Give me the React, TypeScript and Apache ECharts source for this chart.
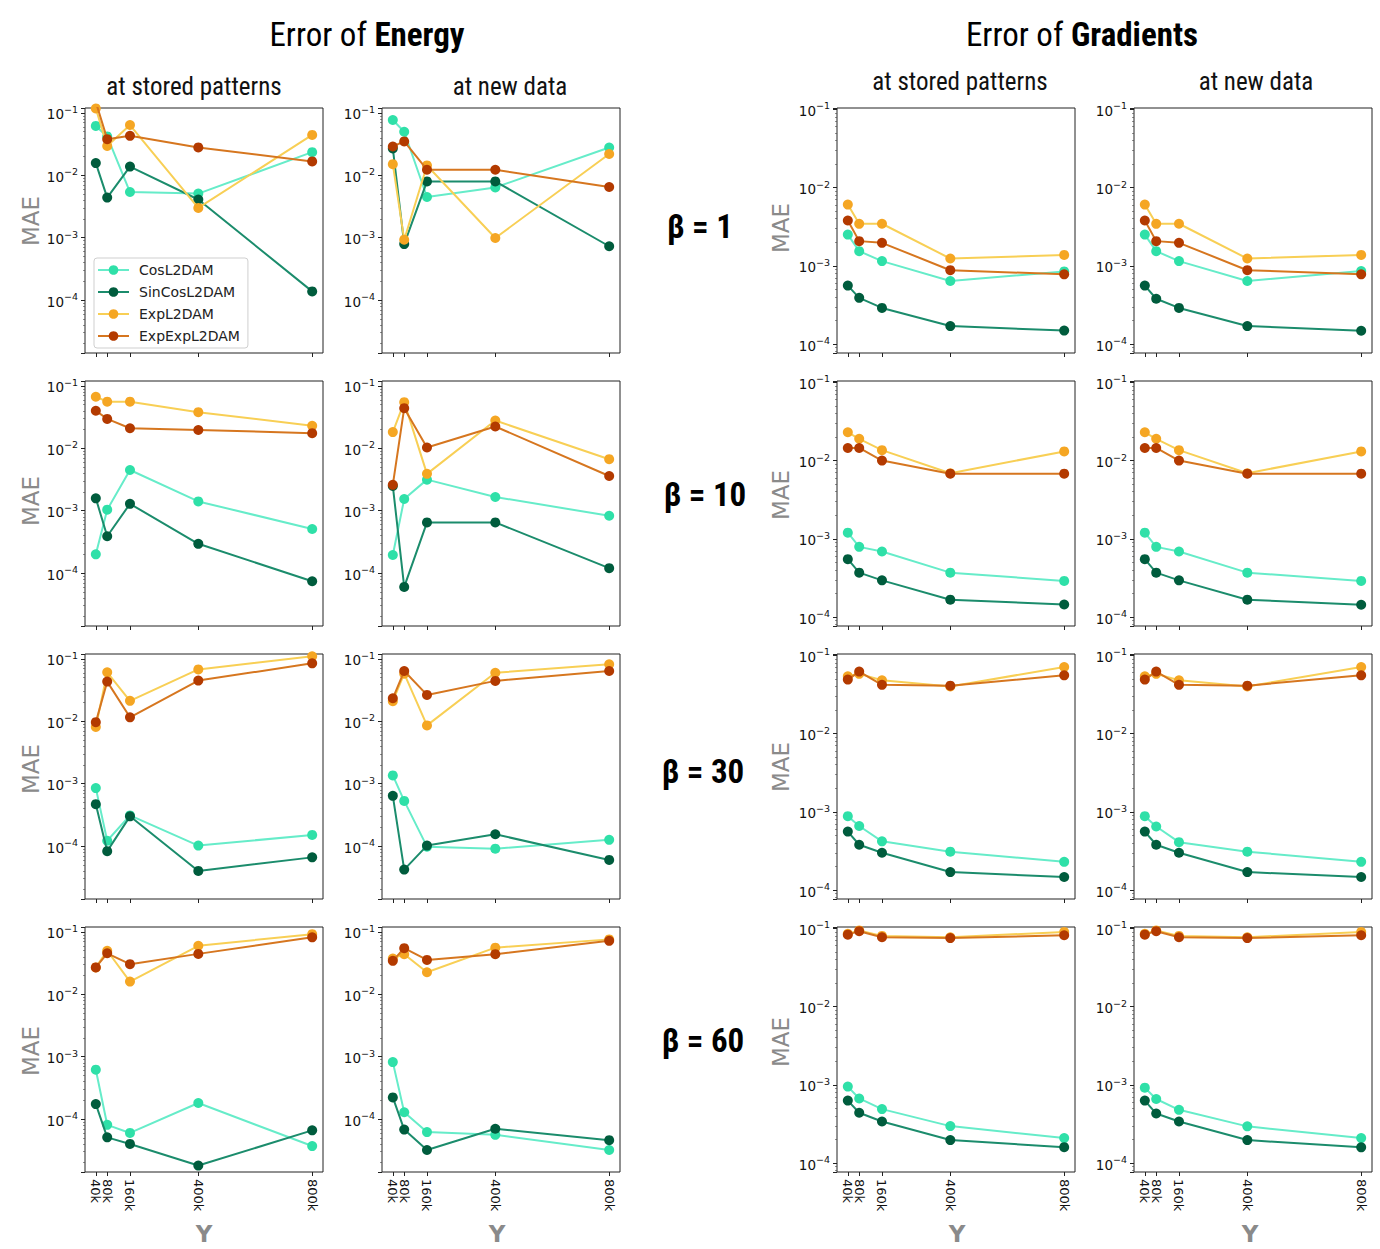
import React, { useEffect, useRef } from 'react';
import * as echarts from 'echarts';

// Number of stored patterns Y (x positions of every panel)
const yValues = [40000, 80000, 160000, 400000, 800000];
const models = ['CosL2DAM', 'SinCosL2DAM', 'ExpL2DAM', 'ExpExpL2DAM'];
const betaLabels = ['β = 1', 'β = 10', 'β = 30', 'β = 60'];
const markerColors = ['#2fe0a8', '#005c3d', '#f5a623', '#b33a00'];
const lineColors = ['#66ecc9', '#1b8c6c', '#f8cf55', '#d6761f'];

// MAE per model (rows: Cos, SinCos, Exp, ExpExp), columns follow yValues
const energyStoredBeta1 = [
  [0.062, 0.042, 0.0054, 0.0051, 0.0235],
  [0.0157, 0.0044, 0.0138, 0.0041, 0.000138],
  [0.118, 0.0296, 0.064, 0.003, 0.0445],
  [0.15, 0.038, 0.043, 0.028, 0.0167],
];
const energyNewBeta1 = [
  [0.077, 0.05, 0.0045, 0.0064, 0.0279],
  [0.027, 0.00079, 0.008, 0.008, 0.00073],
  [0.0151, 0.00093, 0.0144, 0.00099, 0.022],
  [0.029, 0.035, 0.0123, 0.0123, 0.0065],
];
const energyStoredBeta10 = [
  [0.0002, 0.00104, 0.0045, 0.00141, 0.00051],
  [0.00158, 0.00039, 0.00129, 0.000295, 0.000074],
  [0.067, 0.056, 0.056, 0.038, 0.023],
  [0.04, 0.0296, 0.021, 0.0197, 0.0175],
];
const energyNewBeta10 = [
  [0.000195, 0.00154, 0.00315, 0.00166, 0.00083],
  [0.0025, 0.00006, 0.00065, 0.00065, 0.00012],
  [0.0182, 0.055, 0.0039, 0.0279, 0.0067],
  [0.0026, 0.044, 0.0103, 0.0224, 0.0036],
];
const energyStoredBeta30 = [
  [0.00085, 0.000122, 0.00031, 0.000102, 0.000151],
  [0.00047, 0.000083, 0.0003, 0.00004, 0.000066],
  [0.0081, 0.061, 0.0213, 0.068, 0.11],
  [0.0097, 0.0433, 0.0116, 0.045, 0.085],
];
const energyNewBeta30 = [
  [0.00136, 0.00053, 0.000098, 0.000091, 0.000126],
  [0.00064, 0.000042, 0.000102, 0.000155, 0.00006],
  [0.021, 0.058, 0.0086, 0.06, 0.082],
  [0.0234, 0.064, 0.0265, 0.0445, 0.064],
];
const energyStoredBeta60 = [
  [0.00062, 0.000081, 0.00006, 0.000181, 0.000037],
  [0.000174, 0.000051, 0.00004, 0.000018, 0.000066],
  [0.027, 0.05, 0.016, 0.06, 0.092],
  [0.027, 0.0455, 0.0304, 0.0445, 0.082],
];
const energyNewBeta60 = [
  [0.00082, 0.000129, 0.000062, 0.000056, 0.000032],
  [0.000223, 0.000068, 0.000032, 0.00007, 0.000046],
  [0.0375, 0.044, 0.0226, 0.056, 0.076],
  [0.0344, 0.055, 0.0356, 0.044, 0.072],
];
const gradStoredBeta1 = [
  [0.00251, 0.00154, 0.00115, 0.00064, 0.00085],
  [0.00056, 0.00039, 0.00029, 0.00017, 0.000149],
  [0.00607, 0.00344, 0.00345, 0.00124, 0.00138],
  [0.0038, 0.00207, 0.00197, 0.00088, 0.00078],
];
const gradNewBeta1 = [
  [0.00251, 0.00154, 0.00115, 0.00064, 0.00086],
  [0.00056, 0.00038, 0.00029, 0.00017, 0.000148],
  [0.00607, 0.00344, 0.00345, 0.00124, 0.00138],
  [0.0038, 0.00207, 0.00197, 0.00088, 0.00078],
];
const gradStoredBeta10 = [
  [0.0012, 0.00079, 0.00069, 0.00037, 0.00029],
  [0.00055, 0.00037, 0.000295, 0.000167, 0.000145],
  [0.023, 0.019, 0.0136, 0.0069, 0.0131],
  [0.0145, 0.0145, 0.01, 0.0068, 0.0068],
];
const gradNewBeta10 = [
  [0.0012, 0.00079, 0.00069, 0.00037, 0.00029],
  [0.00055, 0.00037, 0.000295, 0.000167, 0.000144],
  [0.023, 0.019, 0.0136, 0.0069, 0.0131],
  [0.0145, 0.0145, 0.01, 0.0068, 0.0068],
];
const gradStoredBeta30 = [
  [0.00088, 0.00066, 0.00042, 0.00031, 0.00023],
  [0.00056, 0.00038, 0.0003, 0.00017, 0.000147],
  [0.054, 0.058, 0.048, 0.04, 0.071],
  [0.049, 0.062, 0.042, 0.041, 0.0555],
];
const gradNewBeta30 = [
  [0.00088, 0.00065, 0.00041, 0.00031, 0.00023],
  [0.00056, 0.00038, 0.0003, 0.00017, 0.000147],
  [0.054, 0.058, 0.048, 0.04, 0.071],
  [0.049, 0.062, 0.042, 0.041, 0.0555],
];
const gradStoredBeta60 = [
  [0.00095, 0.00067, 0.00049, 0.000297, 0.000209],
  [0.00063, 0.00044, 0.00034, 0.000197, 0.00016],
  [0.085, 0.094, 0.08, 0.077, 0.09],
  [0.083, 0.092, 0.077, 0.075, 0.0815],
];
const gradNewBeta60 = [
  [0.00092, 0.00066, 0.00048, 0.000295, 0.000209],
  [0.00063, 0.00043, 0.00034, 0.000197, 0.000159],
  [0.085, 0.094, 0.08, 0.077, 0.09],
  [0.083, 0.092, 0.077, 0.075, 0.0815],
];

const panelRows = [
  [energyStoredBeta1, energyNewBeta1, gradStoredBeta1, gradNewBeta1],
  [energyStoredBeta10, energyNewBeta10, gradStoredBeta10, gradNewBeta10],
  [energyStoredBeta30, energyNewBeta30, gradStoredBeta30, gradNewBeta30],
  [energyStoredBeta60, energyNewBeta60, gradStoredBeta60, gradNewBeta60],
];

const PLAIN = "'DejaVu Sans', sans-serif";
const NARROW = "'Roboto Condensed', 'Liberation Sans Narrow', 'DejaVu Sans Condensed', sans-serif";

const colLeft = [85, 382, 837, 1134];
const rowTop = [108, 381, 654, 927];
const PANEL_W = 238;
const PANEL_H = 245;
const X_MIN = 2000;
const X_MAX = 838000;

const energyRange = [1.42e-5, 0.12];
const gradRange = [7.7e-5, 0.104];

const logLabel = (v: number) => {
  const e = Math.log10(v);
  const r = Math.round(e);
  if (Math.abs(e - r) > 1e-6) return '';
  return `{b|10}{s|\u2212${Math.abs(r)}}`;
};

const kLabel = (v: number) => `${Math.round(v / 1000)}k`;

const xLabelStyle = {
  rotate: -90,
  margin: 7,
  fontFamily: PLAIN,
  fontSize: 13,
  color: '#111',
  interval: 0,
  hideOverlap: false,
  formatter: kLabel,
};

function buildOption() {
  const grid: any[] = [];
  const xAxis: any[] = [];
  const yAxis: any[] = [];
  const series: any[] = [];
  const extraX: any[] = [];

  panelRows.forEach((row, r) => {
    row.forEach((panel, c) => {
      const idx = grid.length;
      const bottomRow = r === panelRows.length - 1;
      grid.push({
        left: colLeft[c],
        top: rowTop[r],
        width: PANEL_W,
        height: PANEL_H,
        show: true,
        borderColor: '#222',
        borderWidth: 1,
        backgroundColor: 'transparent',
      });
      xAxis.push({
        type: 'value',
        gridIndex: idx,
        min: X_MIN,
        max: X_MAX,
        axisLine: { show: false },
        splitLine: { show: false },
        axisTick: {
          show: true,
          customValues: yValues,
          length: 4,
          lineStyle: { color: '#222', width: 1 },
        },
        axisLabel: {
          show: bottomRow,
          customValues: yValues.filter((v) => v !== 80000),
          ...xLabelStyle,
        },
      });
      if (bottomRow) {
        // the 80k label sits right next to 40k, so it gets its own label-only axis
        extraX.push({
          type: 'value',
          gridIndex: idx,
          position: 'bottom',
          min: X_MIN,
          max: X_MAX,
          axisLine: { show: false },
          splitLine: { show: false },
          axisTick: { show: false },
          axisLabel: { show: true, customValues: [80000], ...xLabelStyle },
        });
      }
      const range = c < 2 ? energyRange : gradRange;
      yAxis.push({
        type: 'log',
        logBase: 10,
        gridIndex: idx,
        min: range[0],
        max: range[1],
        axisLine: { show: false },
        splitLine: { show: false },
        axisTick: { show: true, length: 4, lineStyle: { color: '#222', width: 1 } },
        minorTick: { show: true, splitNumber: 9, length: 2, lineStyle: { color: '#444', width: 0.6 } },
        axisLabel: {
          margin: 7,
          color: '#111',
          formatter: logLabel,
          rich: {
            b: { fontFamily: PLAIN, fontSize: 13.5, color: '#111', lineHeight: 17, verticalAlign: 'bottom' },
            s: { fontFamily: PLAIN, fontSize: 9.5, color: '#111', lineHeight: 10, verticalAlign: 'top' },
          },
        },
      });
      panel.forEach((vals, m) => {
        series.push({
          type: 'line',
          name: models[m],
          xAxisIndex: idx,
          yAxisIndex: idx,
          data: yValues.map((x, i) => [x, vals[i]]),
          symbol: 'circle',
          symbolSize: 10,
          clip: true,
          lineStyle: { color: lineColors[m], width: 2 },
          itemStyle: { color: markerColors[m] },
          emphasis: { disabled: true },
          z: 2 + m,
        });
      });
    });
  });

  const graphic: any[] = [];
  const titleRich = (word: string) => ({
    text: `{n|Error of }{b|${word}}`,
    align: 'center',
    verticalAlign: 'middle',
    rich: {
      n: { fontFamily: NARROW, fontSize: 33, color: '#111' },
      b: { fontFamily: NARROW, fontSize: 33, fontWeight: 'bold', color: '#111' },
    },
  });
  graphic.push({ type: 'text', x: 367, y: 34, style: titleRich('Energy') });
  graphic.push({ type: 'text', x: 1082, y: 34, style: titleRich('Gradients') });

  const subtitle = (x: number, y: number, text: string) => ({
    type: 'text',
    x,
    y,
    style: { text, align: 'center', verticalAlign: 'middle', fontFamily: NARROW, fontSize: 25, fill: '#111' },
  });
  graphic.push(subtitle(194, 86, 'at stored patterns'));
  graphic.push(subtitle(510, 86, 'at new data'));
  graphic.push(subtitle(960, 81, 'at stored patterns'));
  graphic.push(subtitle(1256, 81, 'at new data'));

  const betaY = [226, 494, 771, 1040];
  const betaX = [700, 705, 703, 703];
  betaLabels.forEach((t, i) => {
    graphic.push({
      type: 'text',
      x: betaX[i],
      y: betaY[i],
      style: { text: t, align: 'center', verticalAlign: 'middle', fontFamily: NARROW, fontSize: 33, fontWeight: 'bold', fill: '#000' },
    });
  });

  const maeEnergyY = [221, 501, 769, 1051];
  const maeGradY = [228, 495, 767, 1042];
  const mae = (x: number, y: number) => ({
    type: 'text',
    x,
    y,
    rotation: Math.PI / 2,
    style: { text: 'MAE', align: 'center', verticalAlign: 'middle', fontFamily: PLAIN, fontSize: 23, fill: '#8a8a8a' },
  });
  maeEnergyY.forEach((y) => graphic.push(mae(31, y)));
  maeGradY.forEach((y) => graphic.push(mae(781, y)));

  [204, 497, 957, 1250].forEach((x) => {
    graphic.push({
      type: 'text',
      x,
      y: 1234,
      style: { text: 'Y', align: 'center', verticalAlign: 'middle', fontFamily: PLAIN, fontSize: 23, fontWeight: 'bold', fill: '#8a8a8a' },
    });
  });

  return {
    animation: false,
    backgroundColor: '#ffffff',
    grid,
    xAxis: [...xAxis, ...extraX],
    yAxis,
    series,
    legend: {
      data: models,
      orient: 'vertical',
      left: 94,
      top: 258,
      itemWidth: 31,
      itemHeight: 12,
      itemGap: 8,
      padding: [5, 8, 5, 3],
      backgroundColor: '#ffffff',
      borderColor: '#cfcfcf',
      borderWidth: 1,
      borderRadius: 3,
      selectedMode: false,
      textStyle: { fontFamily: PLAIN, fontSize: 14, color: '#222', padding: [0, 0, 0, 5] },
      z: 20,
    },
    graphic,
  };
}

export default function App() {
  const ref = useRef<HTMLDivElement>(null);
  useEffect(() => {
    if (!ref.current) return;
    const chart = echarts.init(ref.current, undefined, { renderer: 'svg' });
    chart.setOption(buildOption() as any);
    return () => chart.dispose();
  }, []);
  return (
    <div
      ref={ref}
      style={{ position: 'absolute', left: 0, top: 0, width: 1380, height: 1249, background: '#fff' }}
    />
  );
}
